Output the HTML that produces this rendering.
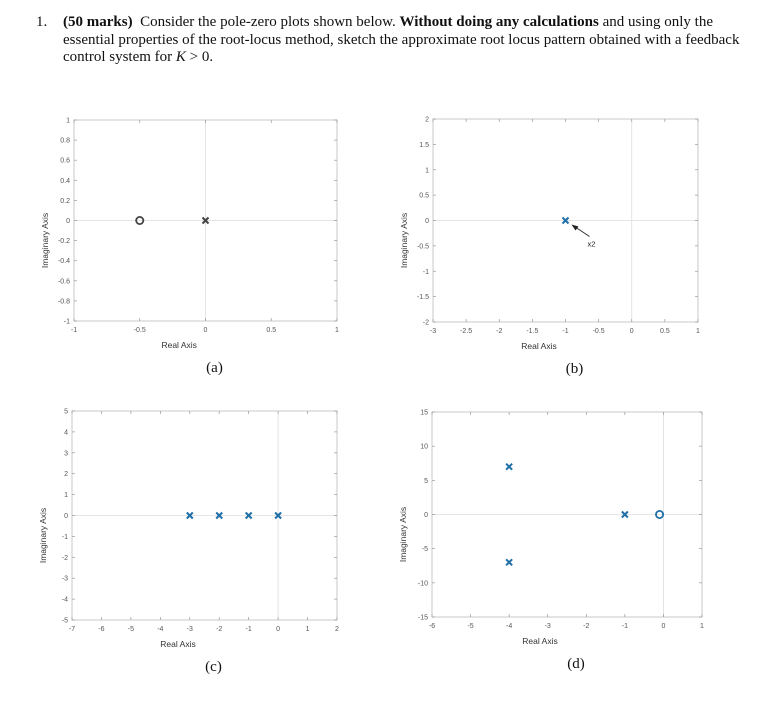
<!DOCTYPE html>
<html><head><meta charset="utf-8">
<style>
body{margin:0;background:#fff;width:784px;height:726px;overflow:hidden;position:relative;font-family:"Liberation Serif",serif;}
.q{position:absolute;left:36px;top:14px;font-size:15px;line-height:17.5px;color:#111;}
.q .num{position:absolute;left:0;top:0}
.q .body{position:absolute;left:27px;top:0;width:700px}
svg{position:absolute;left:0;top:0}
</style></head><body>
<div class="q"><span class="num">1.</span><div class="body"><b>(50 marks)</b>&nbsp; Consider the pole-zero plots shown below. <b>Without doing any calculations</b> and using only the essential properties of the root-locus method, sketch the approximate root locus pattern obtained with a feedback control system for <i>K</i> &gt; 0.</div></div>
<svg id="s" width="784" height="726"></svg>
<script>
// Plot (a)
const aPolesRe=[0], aPolesIm=[0], aZerosRe=[-0.5], aZerosIm=[0];
const aXTicks=[-1,-0.5,0,0.5,1], aYTicks=[1,0.8,0.6,0.4,0.2,0,-0.2,-0.4,-0.6,-0.8,-1];
// Plot (b)
const bPolesRe=[-1], bPolesIm=[0], bZerosRe=[], bZerosIm=[];
const bXTicks=[-3,-2.5,-2,-1.5,-1,-0.5,0,0.5,1], bYTicks=[2,1.5,1,0.5,0,-0.5,-1,-1.5,-2];
// Plot (c)
const cPolesRe=[-3,-2,-1,0], cPolesIm=[0,0,0,0], cZerosRe=[], cZerosIm=[];
const cXTicks=[-7,-6,-5,-4,-3,-2,-1,0,1,2], cYTicks=[5,4,3,2,1,0,-1,-2,-3,-4,-5];
// Plot (d)
const dPolesRe=[-4,-4,-1], dPolesIm=[7,-7,0], dZerosRe=[-0.1], dZerosIm=[0];
const dXTicks=[-6,-5,-4,-3,-2,-1,0,1], dYTicks=[15,10,5,0,-5,-10,-15];

const NS='http://www.w3.org/2000/svg';
const svg=document.getElementById('s');
function mk(t,at,p){const e=document.createElementNS(NS,t);for(const k in at)e.setAttribute(k,at[k]);(p||svg).appendChild(e);return e;}
function plot(id,box,xr,yr,xt,yt,pr,pi,zr,zi,col,lab){
  const g=mk('g',{});
  
  
  const [L,T,R,B]=box;
  const sx=v=>L+(v-xr[0])/(xr[1]-xr[0])*(R-L);
  const sy=v=>B-(v-yr[0])/(yr[1]-yr[0])*(B-T);
  mk('rect',{x:L,y:T,width:R-L,height:B-T,fill:'#fff',stroke:'#bbb','stroke-width':0.8},g);
  mk('line',{x1:L,x2:R,y1:sy(0),y2:sy(0),stroke:'#ddd','stroke-width':0.8},g);
  if(0>=xr[0]&&0<=xr[1])mk('line',{x1:sx(0),x2:sx(0),y1:T,y2:B,stroke:'#ddd','stroke-width':0.8},g);
  xt.forEach(v=>{const x=sx(v);
    mk('line',{x1:x,x2:x,y1:B,y2:B-3,stroke:'#999','stroke-width':0.7},g);
    mk('line',{x1:x,x2:x,y1:T,y2:T+3,stroke:'#999','stroke-width':0.7},g);
    const t=mk('text',{x:x,y:B+11,'text-anchor':'middle','font-size':7,fill:'#555','font-family':'Liberation Sans,sans-serif'},g);t.textContent=v;
    
    });
  yt.forEach(v=>{const y=sy(v);
    mk('line',{x1:L,x2:L+3,y1:y,y2:y,stroke:'#999','stroke-width':0.7},g);
    mk('line',{x1:R,x2:R-3,y1:y,y2:y,stroke:'#999','stroke-width':0.7},g);
    const t=mk('text',{x:L-4,y:y+2.5,'text-anchor':'end','font-size':7,fill:'#555','font-family':'Liberation Sans,sans-serif'},g);t.textContent=v;
    
    });
  const xl=mk('text',{x:(L+R)/2-(R-L)*0.1,y:B+27,'text-anchor':'middle','font-size':8.5,fill:'#333','font-family':'Liberation Sans,sans-serif'},g);xl.textContent='Real Axis';
  
  
  const yx=L-26,yy=(T+B)/2+20;
  const yl=mk('text',{x:yx,y:yy,'text-anchor':'middle','font-size':8.5,fill:'#333','font-family':'Liberation Sans,sans-serif',transform:`rotate(-90 ${yx} ${yy})`},g);yl.textContent='Imaginary Axis';
  
  
  pr.forEach((v,i)=>{const x=sx(v),y=sy(pi[i]);
    const p=mk('path',{d:`M${x-3} ${y-3}L${x+3} ${y+3}M${x+3} ${y-3}L${x-3} ${y+3}`,stroke:col,'stroke-width':2},g);
    
    });
  zr.forEach((v,i)=>{
    const c=mk('circle',{cx:sx(v),cy:sy(zi[i]),r:3.6,fill:'none',stroke:col,'stroke-width':1.8},g);
    
    });
  const cap=mk('text',{x:(L+R)/2+9,y:B+51,'text-anchor':'middle','font-size':15,fill:'#111','font-family':'Liberation Serif,serif'},g);cap.textContent=lab;
  
  
  return {sx,sy,g};
}
plot('a',[74,120,337,321],[-1,1],[-1,1],aXTicks,aYTicks,aPolesRe,aPolesIm,aZerosRe,aZerosIm,'#444','(a)');
const pb=plot('b',[433,119,698,322],[-3,1],[-2,2],bXTicks,bYTicks,bPolesRe,bPolesIm,bZerosRe,bZerosIm,'#1f6fa8','(b)');
{const x=pb.sx(-1),y=pb.sy(0);
 mk('line',{x1:x+24,y1:y+16,x2:x+9,y2:y+6,stroke:'#222','stroke-width':0.8},pb.g);
 mk('path',{d:`M${x+6} ${y+4}L${x+13} ${y+6}L${x+10} ${y+10}Z`,fill:'#222'},pb.g);
 const t=mk('text',{x:x+22,y:y+26,'font-size':7.5,fill:'#222','font-family':'Liberation Sans,sans-serif'},pb.g);t.textContent='x2';
 
 }
plot('c',[72,411,337,620],[-7,2],[-5,5],cXTicks,cYTicks,cPolesRe,cPolesIm,cZerosRe,cZerosIm,'#1f6fa8','(c)');
plot('d',[432,412,702,617],[-6,1],[-15,15],dXTicks,dYTicks,dPolesRe,dPolesIm,dZerosRe,dZerosIm,'#1f6fa8','(d)');
</script>
</body></html>
